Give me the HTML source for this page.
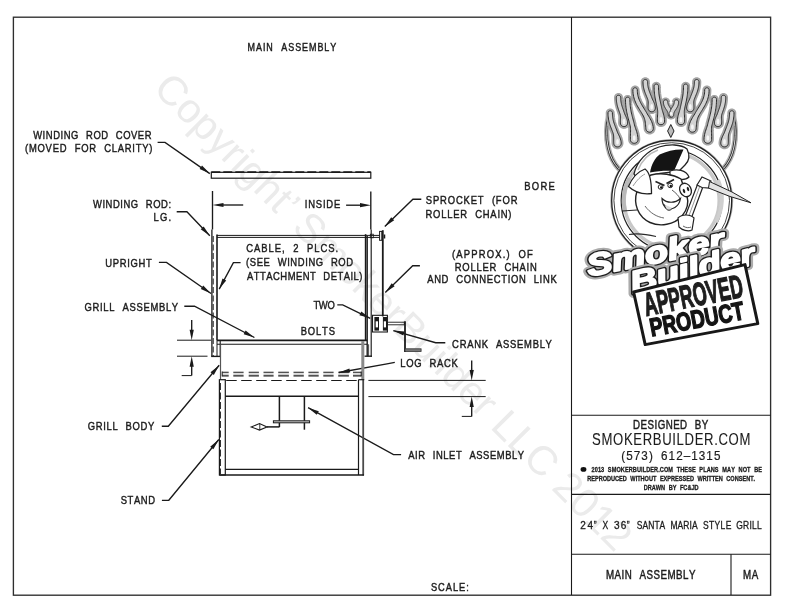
<!DOCTYPE html>
<html><head><meta charset="utf-8"><style>
html,body{margin:0;padding:0;background:#fff;}
svg{display:block;font-family:"Liberation Sans",sans-serif;font-kerning:none;filter:grayscale(1);}
</style></head><body>
<svg width="785" height="616" viewBox="0 0 785 616">
<rect width="785" height="616" fill="#fff"/>
<text transform="translate(152,90) rotate(45.0)" font-size="41" fill="#ebebeb" stroke="#fff" stroke-width="0" textLength="655" lengthAdjust="spacing">Copyright’ SmokerBuilder LLC 2012</text>
<rect x="13.4" y="17.2" width="757.2" height="578.0" fill="none" stroke="#2e2e2e" stroke-width="1.35" />
<line x1="571.5" y1="17.0" x2="571.5" y2="595.0" stroke="#1a1a1a" stroke-width="1.1" />
<line x1="571.5" y1="415.2" x2="770.5" y2="415.2" stroke="#1a1a1a" stroke-width="1.1" />
<line x1="571.5" y1="494.4" x2="770.5" y2="494.4" stroke="#1a1a1a" stroke-width="1.1" />
<line x1="571.5" y1="554.3" x2="770.5" y2="554.3" stroke="#1a1a1a" stroke-width="1.1" />
<line x1="731.0" y1="554.3" x2="731.0" y2="595.0" stroke="#1a1a1a" stroke-width="1.1" />
<text transform="translate(247.56,51.40) scale(0.8,1)" font-size="11.2" font-weight="normal" fill="#1c1c1c" letter-spacing="1.212" word-spacing="5.00"  stroke="#1c1c1c" stroke-width="0.45">MAIN ASSEMBLY</text>
<text transform="translate(430.98,590.90) scale(0.8,1)" font-size="11.6" font-weight="normal" fill="#1c1c1c" letter-spacing="1.190" word-spacing="5.00"  stroke="#1c1c1c" stroke-width="0.45">SCALE:</text>
<text transform="translate(33.16,139.10) scale(0.8,1)" font-size="11.8" font-weight="normal" fill="#1c1c1c" letter-spacing="0.683" word-spacing="5.00"  stroke="#1c1c1c" stroke-width="0.45">WINDING ROD COVER</text>
<text transform="translate(25.01,152.40) scale(0.8,1)" font-size="11.8" font-weight="normal" fill="#1c1c1c" letter-spacing="0.946" word-spacing="5.00"  stroke="#1c1c1c" stroke-width="0.45">(MOVED FOR CLARITY)</text>
<polyline points="157.6,142.4 165.0,142.4 209.8,173.6" fill="none" stroke="#1a1a1a" stroke-width="1.35" />
<polygon points="209.8,173.6 199.6,169.0 202.0,165.6" fill="#1a1a1a"/>
<text transform="translate(92.96,208.40) scale(0.8,1)" font-size="11.8" font-weight="normal" fill="#1c1c1c" letter-spacing="0.685" word-spacing="5.00"  stroke="#1c1c1c" stroke-width="0.45">WINDING ROD:</text>
<text transform="translate(153.53,221.40) scale(0.8,1)" font-size="11.8" font-weight="normal" fill="#1c1c1c" letter-spacing="1.513" word-spacing="5.00"  stroke="#1c1c1c" stroke-width="0.45">LG.</text>
<polyline points="176.7,211.7 186.9,211.7 209.8,235.8" fill="none" stroke="#1a1a1a" stroke-width="1.35" />
<polygon points="209.8,235.8 200.7,229.3 203.7,226.4" fill="#1a1a1a"/>
<text transform="translate(105.17,266.80) scale(0.8,1)" font-size="11.8" font-weight="normal" fill="#1c1c1c" letter-spacing="0.889" word-spacing="5.00"  stroke="#1c1c1c" stroke-width="0.45">UPRIGHT</text>
<polyline points="158.9,262.4 166.5,262.4 211.0,293.5" fill="none" stroke="#1a1a1a" stroke-width="1.35" />
<polygon points="211.0,293.5 200.8,288.9 203.2,285.5" fill="#1a1a1a"/>
<text transform="translate(84.53,310.80) scale(0.8,1)" font-size="11.8" font-weight="normal" fill="#1c1c1c" letter-spacing="0.854" word-spacing="5.00"  stroke="#1c1c1c" stroke-width="0.45">GRILL ASSEMBLY</text>
<polyline points="184.3,306.2 194.5,306.2 254.4,337.5" fill="none" stroke="#1a1a1a" stroke-width="1.35" />
<polygon points="254.4,337.5 243.7,334.3 245.6,330.5" fill="#1a1a1a"/>
<text transform="translate(87.73,430.10) scale(0.8,1)" font-size="11.8" font-weight="normal" fill="#1c1c1c" letter-spacing="0.837" word-spacing="5.00"  stroke="#1c1c1c" stroke-width="0.45">GRILL BODY</text>
<polyline points="161.8,426.2 168.3,426.2 219.2,365.2" fill="none" stroke="#1a1a1a" stroke-width="1.35" />
<polygon points="219.2,365.2 213.8,375.0 210.5,372.3" fill="#1a1a1a"/>
<text transform="translate(120.67,504.20) scale(0.8,1)" font-size="11.8" font-weight="normal" fill="#1c1c1c" letter-spacing="0.746" word-spacing="5.00"  stroke="#1c1c1c" stroke-width="0.45">STAND</text>
<polyline points="161.9,500.3 168.8,500.3 218.8,439.5" fill="none" stroke="#1a1a1a" stroke-width="1.35" />
<polygon points="218.8,439.5 213.4,449.3 210.2,446.7" fill="#1a1a1a"/>
<text transform="translate(524.23,190.30) scale(0.8,1)" font-size="11.8" font-weight="normal" fill="#1c1c1c" letter-spacing="1.595" word-spacing="5.00"  stroke="#1c1c1c" stroke-width="0.45">BORE</text>
<text transform="translate(425.87,204.00) scale(0.8,1)" font-size="11.8" font-weight="normal" fill="#1c1c1c" letter-spacing="1.046" word-spacing="5.00"  stroke="#1c1c1c" stroke-width="0.45">SPROCKET (FOR</text>
<text transform="translate(425.53,217.50) scale(0.8,1)" font-size="11.8" font-weight="normal" fill="#1c1c1c" letter-spacing="0.953" word-spacing="5.00"  stroke="#1c1c1c" stroke-width="0.45">ROLLER CHAIN)</text>
<polyline points="421.3,199.2 412.9,199.2 384.8,226.4" fill="none" stroke="#1a1a1a" stroke-width="1.35" />
<polygon points="384.8,226.4 391.2,217.2 394.2,220.3" fill="#1a1a1a"/>
<text transform="translate(452.01,258.00) scale(0.8,1)" font-size="11.8" font-weight="normal" fill="#1c1c1c" letter-spacing="1.463" word-spacing="5.00"  stroke="#1c1c1c" stroke-width="0.45">(APPROX.) OF</text>
<text transform="translate(454.73,271.30) scale(0.8,1)" font-size="11.8" font-weight="normal" fill="#1c1c1c" letter-spacing="0.952" word-spacing="5.00"  stroke="#1c1c1c" stroke-width="0.45">ROLLER CHAIN</text>
<text transform="translate(427.18,283.40) scale(0.8,1)" font-size="11.8" font-weight="normal" fill="#1c1c1c" letter-spacing="0.834" word-spacing="5.00"  stroke="#1c1c1c" stroke-width="0.45">AND CONNECTION LINK</text>
<polyline points="419.9,265.7 412.7,265.7 385.3,292.4" fill="none" stroke="#1a1a1a" stroke-width="1.35" />
<polygon points="385.3,292.4 391.7,283.2 394.6,286.2" fill="#1a1a1a"/>
<text transform="translate(313.39,308.60) scale(0.8,1)" font-size="11.8" font-weight="normal" fill="#1c1c1c" letter-spacing="-0.410" word-spacing="5.00"  stroke="#1c1c1c" stroke-width="0.45">TWO</text>
<polyline points="337.3,304.8 342.7,304.8 370.2,318.3" fill="none" stroke="#1a1a1a" stroke-width="1.35" />
<polygon points="370.2,318.3 359.4,315.3 361.3,311.6" fill="#1a1a1a"/>
<text transform="translate(300.63,335.10) scale(0.8,1)" font-size="11.8" font-weight="normal" fill="#1c1c1c" letter-spacing="1.080" word-spacing="5.00"  stroke="#1c1c1c" stroke-width="0.45">BOLTS</text>
<text transform="translate(452.12,347.50) scale(0.8,1)" font-size="11.8" font-weight="normal" fill="#1c1c1c" letter-spacing="0.897" word-spacing="5.00"  stroke="#1c1c1c" stroke-width="0.45">CRANK ASSEMBLY</text>
<polyline points="445.3,342.7 435.7,342.7 393.3,330.6" fill="none" stroke="#1a1a1a" stroke-width="1.35" />
<polygon points="393.3,330.6 404.5,331.6 403.3,335.6" fill="#1a1a1a"/>
<text transform="translate(400.33,367.30) scale(0.8,1)" font-size="11.8" font-weight="normal" fill="#1c1c1c" letter-spacing="0.838" word-spacing="5.00"  stroke="#1c1c1c" stroke-width="0.45">LOG RACK</text>
<polyline points="394.8,362.4 387.0,363.8 339.0,372.5" fill="none" stroke="#1a1a1a" stroke-width="1.35" />
<polygon points="339.0,372.5 349.4,368.5 350.2,372.6" fill="#1a1a1a"/>
<text transform="translate(408.28,459.00) scale(0.8,1)" font-size="11.8" font-weight="normal" fill="#1c1c1c" letter-spacing="0.684" word-spacing="5.00"  stroke="#1c1c1c" stroke-width="0.45">AIR INLET ASSEMBLY</text>
<polyline points="401.1,454.6 393.5,454.6 308.1,407.7" fill="none" stroke="#1a1a1a" stroke-width="1.35" />
<polygon points="308.1,407.7 318.8,411.2 316.7,414.8" fill="#1a1a1a"/>
<text transform="translate(246.22,252.40) scale(0.8,1)" font-size="11.8" font-weight="normal" fill="#1c1c1c" letter-spacing="1.220" word-spacing="5.00"  stroke="#1c1c1c" stroke-width="0.45">CABLE, 2 PLCS.</text>
<text transform="translate(246.11,265.70) scale(0.8,1)" font-size="11.8" font-weight="normal" fill="#1c1c1c" letter-spacing="0.736" word-spacing="5.00"  stroke="#1c1c1c" stroke-width="0.45">(SEE WINDING ROD</text>
<text transform="translate(247.08,280.00) scale(0.8,1)" font-size="11.8" font-weight="normal" fill="#1c1c1c" letter-spacing="0.594" word-spacing="5.00"  stroke="#1c1c1c" stroke-width="0.45">ATTACHMENT DETAIL)</text>
<polyline points="240.6,262.6 233.4,262.6 219.2,289.1" fill="none" stroke="#1a1a1a" stroke-width="1.35" />
<polygon points="219.2,289.1 222.5,278.4 226.2,280.4" fill="#1a1a1a"/>
<text transform="translate(304.73,208.40) scale(0.8,1)" font-size="11.8" font-weight="normal" fill="#1c1c1c" letter-spacing="1.026" word-spacing="5.00"  stroke="#1c1c1c" stroke-width="0.45">INSIDE</text>
<line x1="212.5" y1="191.0" x2="212.5" y2="229.5" stroke="#1a1a1a" stroke-width="1.35" />
<line x1="370.8" y1="191.4" x2="370.8" y2="229.5" stroke="#1a1a1a" stroke-width="1.35" />
<line x1="243.2" y1="205.0" x2="222.0" y2="205.0" stroke="#1a1a1a" stroke-width="1.35" />
<polygon points="212.5,205.0 223.5,202.9 223.5,207.1" fill="#1a1a1a"/>
<line x1="346.1" y1="205.2" x2="360.0" y2="205.2" stroke="#1a1a1a" stroke-width="1.35" />
<polygon points="371.0,205.2 360.0,207.3 360.0,203.1" fill="#1a1a1a"/>
<rect x="211.3" y="172.3" width="159.5" height="5.9" fill="none" stroke="#1a1a1a" stroke-width="1.2" />
<line x1="211.3" y1="172.2" x2="370.8" y2="172.2" stroke="#1a1a1a" stroke-width="1.8" stroke-dasharray="9 3"/>
<line x1="211.9" y1="229.5" x2="211.9" y2="356.4" stroke="#1a1a1a" stroke-width="1.3" />
<line x1="213.2" y1="236.0" x2="213.2" y2="356.0" stroke="#1a1a1a" stroke-width="1.0" stroke-dasharray="6 2.5"/>
<line x1="217.0" y1="234.6" x2="217.0" y2="340.2" stroke="#1a1a1a" stroke-width="1.6" />
<line x1="217.0" y1="340.2" x2="217.0" y2="356.4" stroke="#1a1a1a" stroke-width="1.0" />
<line x1="220.2" y1="340.2" x2="220.2" y2="356.4" stroke="#1a1a1a" stroke-width="1.1" />
<line x1="211.2" y1="356.4" x2="220.8" y2="356.4" stroke="#1a1a1a" stroke-width="1.4" />
<line x1="365.6" y1="234.2" x2="365.6" y2="340.2" stroke="#1a1a1a" stroke-width="1.6" />
<line x1="367.2" y1="236.0" x2="367.2" y2="356.4" stroke="#1a1a1a" stroke-width="1.4" />
<line x1="368.6" y1="344.3" x2="368.6" y2="356.2" stroke="#1a1a1a" stroke-width="0.8" />
<line x1="371.2" y1="229.5" x2="371.2" y2="356.4" stroke="#1a1a1a" stroke-width="1.15" />
<line x1="364.5" y1="356.2" x2="372.0" y2="356.2" stroke="#1a1a1a" stroke-width="1.4" />
<line x1="217.0" y1="235.4" x2="379.5" y2="235.4" stroke="#1a1a1a" stroke-width="1.0" />
<line x1="217.0" y1="237.4" x2="379.5" y2="237.4" stroke="#1a1a1a" stroke-width="1.0" />
<rect x="370.3" y="234.2" width="3.0" height="3.6" fill="none" stroke="#1a1a1a" stroke-width="0.8" />
<rect x="379.6" y="231.4" width="2.2" height="8.9" fill="none" stroke="#1a1a1a" stroke-width="1.0" />
<line x1="382.8" y1="230.2" x2="382.8" y2="316.4" stroke="#1a1a1a" stroke-width="1.8" />
<line x1="384.5" y1="234.5" x2="384.5" y2="238.5" stroke="#1a1a1a" stroke-width="1.5" />
<rect x="372.5" y="315.3" width="14.9" height="16.7" fill="none" stroke="#1a1a1a" stroke-width="1.1" />
<rect x="374.4" y="317.0" width="4.6" height="13.6" fill="#1a1a1a" stroke="none" stroke-width="0" />
<rect x="382.9" y="317.0" width="4.1" height="13.6" fill="#1a1a1a" stroke="none" stroke-width="0" />
<rect x="375.7" y="321.3" width="2.3" height="6.1" fill="#fff" stroke="none" stroke-width="0" />
<rect x="383.8" y="321.3" width="2.2" height="6.1" fill="#fff" stroke="none" stroke-width="0" />
<rect x="387.4" y="322.2" width="16.9" height="2.6" fill="none" stroke="#1a1a1a" stroke-width="0.9" />
<line x1="405.0" y1="321.3" x2="405.0" y2="352.0" stroke="#1a1a1a" stroke-width="1.8" />
<rect x="405.0" y="348.8" width="16.1" height="2.6" fill="#777" stroke="#333" stroke-width="0.8" />
<line x1="217.0" y1="340.3" x2="367.1" y2="340.3" stroke="#1a1a1a" stroke-width="1.7" />
<line x1="217.0" y1="344.3" x2="367.1" y2="344.3" stroke="#1a1a1a" stroke-width="1.1" />
<line x1="220.5" y1="344.3" x2="220.5" y2="379.6" stroke="#555" stroke-width="1.2" />
<line x1="362.8" y1="341.0" x2="362.8" y2="380.0" stroke="#8a8a8a" stroke-width="3.0" />
<line x1="363.2" y1="379.7" x2="363.2" y2="475.4" stroke="#4a4a4a" stroke-width="1.8" />
<line x1="222.2" y1="372.2" x2="361.2" y2="372.2" stroke="#1a1a1a" stroke-width="1.15" stroke-dasharray="6.5 4.6 10.3 5.1 10.2 4.6 10.1 4.6 10.7 4.6 10.3 4.6 10.3 4.6 10.3 4.6 10.7 4.1 10.7 4.1 7.6"/>
<line x1="222.2" y1="374.1" x2="361.2" y2="374.1" stroke="#8a8a8a" stroke-width="0.7" stroke-dasharray="6.5 4.6 10.3 5.1 10.2 4.6 10.1 4.6 10.7 4.6 10.3 4.6 10.3 4.6 10.3 4.6 10.7 4.1 10.7 4.1 7.6"/>
<line x1="222.2" y1="375.9" x2="361.2" y2="375.9" stroke="#1a1a1a" stroke-width="1.15" stroke-dasharray="6.5 4.6 10.3 5.1 10.2 4.6 10.1 4.6 10.7 4.6 10.3 4.6 10.3 4.6 10.3 4.6 10.7 4.1 10.7 4.1 7.6"/>
<line x1="222.2" y1="371.5" x2="222.2" y2="376.4" stroke="#1a1a1a" stroke-width="1.0" />
<line x1="361.2" y1="371.5" x2="361.2" y2="376.4" stroke="#1a1a1a" stroke-width="1.0" />
<line x1="226.2" y1="380.5" x2="358.5" y2="380.5" stroke="#1a1a1a" stroke-width="1.1" stroke-dasharray="10.5 4.5"/>
<rect x="219.4" y="379.7" width="5.9" height="95.3" fill="none" stroke="#1a1a1a" stroke-width="1.2" />
<line x1="220.4" y1="383.0" x2="220.4" y2="474.0" stroke="#1a1a1a" stroke-width="1.0" stroke-dasharray="7 2.5"/>
<line x1="358.5" y1="379.7" x2="358.5" y2="475.0" stroke="#1a1a1a" stroke-width="1.2" />
<line x1="358.5" y1="379.7" x2="364.2" y2="379.7" stroke="#1a1a1a" stroke-width="1.2" />
<line x1="225.3" y1="396.3" x2="358.5" y2="396.3" stroke="#1a1a1a" stroke-width="1.6" />
<line x1="225.3" y1="469.4" x2="358.5" y2="469.4" stroke="#1a1a1a" stroke-width="1.3" />
<line x1="219.4" y1="475.0" x2="364.0" y2="475.0" stroke="#1a1a1a" stroke-width="1.3" />
<line x1="279.4" y1="396.3" x2="279.4" y2="427.1" stroke="#1a1a1a" stroke-width="1.5" />
<line x1="304.4" y1="396.3" x2="304.4" y2="429.7" stroke="#1a1a1a" stroke-width="1.5" />
<rect x="273.4" y="420.8" width="36.2" height="2.0" fill="#ccc" stroke="#1a1a1a" stroke-width="1.0" />
<polyline points="279.4,426.9 267.0,426.9" fill="none" stroke="#1a1a1a" stroke-width="1.5" />
<polygon points="251.2,426.9 259.5,423.6 267,426.9 259.5,430.1" fill="#fff" stroke="#1a1a1a" stroke-width="1.1"/>
<line x1="259.8" y1="423.8" x2="259.8" y2="430.0" stroke="#1a1a1a" stroke-width="0.9" />
<line x1="177.0" y1="340.2" x2="211.0" y2="340.2" stroke="#1a1a1a" stroke-width="1.0" />
<line x1="177.0" y1="356.2" x2="207.5" y2="356.2" stroke="#1a1a1a" stroke-width="1.0" />
<line x1="191.7" y1="320.0" x2="191.7" y2="331.0" stroke="#1a1a1a" stroke-width="1.35" />
<polygon points="191.7,340.2 189.6,329.7 193.8,329.7" fill="#1a1a1a"/>
<line x1="191.7" y1="375.6" x2="191.7" y2="366.0" stroke="#1a1a1a" stroke-width="1.35" />
<polygon points="191.7,356.2 193.8,366.7 189.6,366.7" fill="#1a1a1a"/>
<line x1="181.7" y1="375.6" x2="191.7" y2="375.6" stroke="#1a1a1a" stroke-width="1.0" />
<line x1="368.4" y1="380.4" x2="485.7" y2="380.4" stroke="#1a1a1a" stroke-width="1.0" />
<line x1="368.4" y1="396.6" x2="485.7" y2="396.6" stroke="#1a1a1a" stroke-width="1.0" />
<line x1="471.7" y1="360.4" x2="471.7" y2="370.0" stroke="#1a1a1a" stroke-width="1.35" />
<polygon points="471.7,380.4 469.6,369.9 473.8,369.9" fill="#1a1a1a"/>
<line x1="471.7" y1="416.4" x2="471.7" y2="406.0" stroke="#1a1a1a" stroke-width="1.35" />
<polygon points="471.7,396.6 473.8,407.1 469.6,407.1" fill="#1a1a1a"/>
<line x1="461.8" y1="416.4" x2="471.7" y2="416.4" stroke="#1a1a1a" stroke-width="1.0" />
<text transform="translate(633.10,428.70) scale(0.8,1)" font-size="12.2" font-weight="normal" fill="#1c1c1c" letter-spacing="0.563" word-spacing="5.00"  stroke="#1c1c1c" stroke-width="0.45">DESIGNED BY</text>
<text transform="translate(592.10,444.50) scale(0.8,1)" font-size="16.4" font-weight="normal" fill="#1c1c1c" letter-spacing="0.804" word-spacing="0.00"  stroke="#1c1c1c" stroke-width="0.1">SMOKERBUILDER.COM</text>
<text transform="translate(621.28,459.80) scale(0.95,1)" font-size="12.3" font-weight="normal" fill="#1c1c1c" letter-spacing="1.122" word-spacing="3.00"  stroke="#1c1c1c" stroke-width="0.2">(573) 612–1315</text>
<text transform="translate(591.51,472.20) scale(0.8,1)" font-size="7.0" font-weight="bold" fill="#1c1c1c" letter-spacing="0.092" word-spacing="2.50"  stroke="#1c1c1c" stroke-width="0.3">2013 SMOKERBUILDER.COM THESE PLANS MAY NOT BE</text>
<ellipse cx="583.5" cy="469.4" rx="2.9" ry="2.4" fill="#111"/>
<text transform="translate(587.23,481.10) scale(0.8,1)" font-size="7.0" font-weight="bold" fill="#1c1c1c" letter-spacing="-0.020" word-spacing="2.50"  stroke="#1c1c1c" stroke-width="0.3">REPRODUCED WITHOUT EXPRESSED WRITTEN CONSENT.</text>
<text transform="translate(643.73,489.80) scale(0.8,1)" font-size="7.0" font-weight="bold" fill="#1c1c1c" letter-spacing="-0.011" word-spacing="2.50"  stroke="#1c1c1c" stroke-width="0.3">DRAWN BY FC&amp;JD</text>
<text transform="translate(580.20,529.30) scale(1.0,1)" font-size="10.0" font-weight="normal" fill="#1c1c1c" letter-spacing="1.673" word-spacing="5.00"  stroke="#1c1c1c" stroke-width="0.3">24</text>
<text transform="translate(593.69,529.30) scale(0.85,1)" font-size="10.0" font-weight="normal" fill="#1c1c1c" letter-spacing="1.873" word-spacing="5.00"  stroke="#1c1c1c" stroke-width="0.3">”</text>
<text transform="translate(602.61,529.30) scale(0.85,1)" font-size="10.0" font-weight="normal" fill="#1c1c1c" letter-spacing="1.294" word-spacing="5.00"  stroke="#1c1c1c" stroke-width="0.3">X</text>
<text transform="translate(613.92,529.30) scale(1.0,1)" font-size="10.0" font-weight="normal" fill="#1c1c1c" letter-spacing="1.197" word-spacing="5.00"  stroke="#1c1c1c" stroke-width="0.3">36</text>
<text transform="translate(626.69,529.30) scale(0.85,1)" font-size="10.0" font-weight="normal" fill="#1c1c1c" letter-spacing="1.991" word-spacing="5.00"  stroke="#1c1c1c" stroke-width="0.3">”</text>
<text transform="translate(636.81,529.30) scale(0.85,1)" font-size="10.0" font-weight="normal" fill="#1c1c1c" letter-spacing="0.048" word-spacing="5.00"  stroke="#1c1c1c" stroke-width="0.3">SANTA</text>
<text transform="translate(670.40,529.30) scale(0.85,1)" font-size="10.0" font-weight="normal" fill="#1c1c1c" letter-spacing="0.087" word-spacing="5.00"  stroke="#1c1c1c" stroke-width="0.3">MARIA</text>
<text transform="translate(703.11,529.30) scale(0.85,1)" font-size="10.0" font-weight="normal" fill="#1c1c1c" letter-spacing="0.389" word-spacing="5.00"  stroke="#1c1c1c" stroke-width="0.3">STYLE</text>
<text transform="translate(736.17,529.30) scale(0.85,1)" font-size="10.0" font-weight="normal" fill="#1c1c1c" letter-spacing="0.336" word-spacing="5.00"  stroke="#1c1c1c" stroke-width="0.3">GRILL</text>
<text transform="translate(605.90,579.00) scale(0.8,1)" font-size="12.2" font-weight="normal" fill="#1c1c1c" letter-spacing="0.613" word-spacing="5.00"  stroke="#1c1c1c" stroke-width="0.45">MAIN ASSEMBLY</text>
<text transform="translate(742.90,579.00) scale(0.8,1)" font-size="12.2" font-weight="normal" fill="#1c1c1c" letter-spacing="0.975" word-spacing="5.00"  stroke="#1c1c1c" stroke-width="0.45">MA</text>
<path d="M609,114 C606.5,124 606,138 608.3,148 C610,156 613.5,163 618.5,168.5" fill="none" stroke="#b2b2b2" stroke-width="5.4" stroke-linecap="round"/>
<path d="M609,114 C606.5,124 606,138 608.3,148 C610,156 613.5,163 618.5,168.5" fill="none" stroke="#2e2e2e" stroke-width="2.6" stroke-linecap="round"/>
<path d="M609,114 C606.5,124 606,138 608.3,148 C610,156 613.5,163 618.5,168.5" fill="none" stroke="#d8d8d8" stroke-width="1.0" stroke-linecap="round"/>
<path d="M733,114 C735.5,124 736,138 733.7,148 C732,156 728.5,163 723.5,168.5" fill="none" stroke="#b2b2b2" stroke-width="5.4" stroke-linecap="round"/>
<path d="M733,114 C735.5,124 736,138 733.7,148 C732,156 728.5,163 723.5,168.5" fill="none" stroke="#2e2e2e" stroke-width="2.6" stroke-linecap="round"/>
<path d="M733,114 C735.5,124 736,138 733.7,148 C732,156 728.5,163 723.5,168.5" fill="none" stroke="#d8d8d8" stroke-width="1.0" stroke-linecap="round"/>
<path d="M668.2,110 L671.0,116.5 L673.8,110" fill="none" stroke="#a6a6a6" stroke-width="5" stroke-linejoin="round"/>
<path d="M668.2,110 L671.0,116.5 L673.8,110" fill="none" stroke="#2a2a2a" stroke-width="2.2" stroke-linejoin="round"/>
<path d="M613.81,143.46 L614.00,144.41 L614.43,145.27 L615.08,145.99 L615.88,146.53 L616.80,146.83 L617.76,146.89 L618.71,146.70 L619.57,146.27 L620.29,145.62 L620.83,144.82 L621.13,143.90 L621.19,142.94 L621.04,141.58 L620.79,140.29 L620.45,139.05 L620.04,137.88 L619.58,136.77 L619.09,135.71 L618.60,134.70 L618.12,133.72 L617.68,132.76 L617.29,131.82 L616.94,130.88 L616.60,129.96 L616.25,129.06 L615.90,128.17 L615.56,127.30 L615.22,126.43 L614.90,125.57 L614.58,124.71 L614.28,123.85 L613.99,122.98 L613.72,122.10 L613.47,121.20 L613.23,120.29 L613.03,119.35 L612.85,118.39 L612.69,117.39 L612.57,116.36 L612.48,115.29 L612.42,114.17 L612.40,113.00 L612.33,112.43 L612.11,111.90 L611.76,111.44 L611.30,111.09 L610.77,110.87 L610.20,110.80 L609.63,110.87 L609.10,111.09 L608.64,111.44 L608.29,111.90 L608.07,112.43 L608.00,113.00 L608.02,114.32 L608.09,115.59 L608.19,116.81 L608.33,117.99 L608.51,119.13 L608.72,120.24 L608.95,121.30 L609.21,122.34 L609.50,123.34 L609.80,124.32 L610.11,125.27 L610.44,126.20 L610.78,127.12 L611.12,128.01 L611.46,128.90 L611.81,129.78 L612.15,130.65 L612.49,131.53 L612.81,132.40 L613.12,133.29 L613.37,134.20 L613.54,135.14 L613.65,136.11 L613.70,137.10 L613.72,138.11 L613.71,139.13 L613.71,140.18 L613.71,141.24 L613.74,142.33 Z M720.81,142.94 L720.87,143.90 L721.17,144.82 L721.71,145.62 L722.43,146.27 L723.29,146.70 L724.24,146.89 L725.20,146.83 L726.12,146.53 L726.92,145.99 L727.57,145.27 L728.00,144.41 L728.19,143.46 L728.26,142.33 L728.29,141.24 L728.29,140.18 L728.29,139.13 L728.28,138.11 L728.30,137.10 L728.35,136.11 L728.46,135.14 L728.63,134.20 L728.88,133.29 L729.19,132.40 L729.51,131.53 L729.85,130.65 L730.19,129.78 L730.54,128.90 L730.88,128.01 L731.22,127.12 L731.56,126.20 L731.89,125.27 L732.20,124.32 L732.50,123.34 L732.79,122.34 L733.05,121.30 L733.28,120.24 L733.49,119.13 L733.67,117.99 L733.81,116.81 L733.91,115.59 L733.98,114.32 L734.00,113.00 L733.93,112.43 L733.71,111.90 L733.36,111.44 L732.90,111.09 L732.37,110.87 L731.80,110.80 L731.23,110.87 L730.70,111.09 L730.24,111.44 L729.89,111.90 L729.67,112.43 L729.60,113.00 L729.58,114.17 L729.52,115.29 L729.43,116.36 L729.31,117.39 L729.15,118.39 L728.97,119.35 L728.77,120.29 L728.53,121.20 L728.28,122.10 L728.01,122.98 L727.72,123.85 L727.42,124.71 L727.10,125.57 L726.78,126.43 L726.44,127.30 L726.10,128.17 L725.75,129.06 L725.40,129.96 L725.06,130.88 L724.71,131.82 L724.32,132.76 L723.88,133.72 L723.40,134.70 L722.91,135.71 L722.42,136.77 L721.96,137.88 L721.55,139.05 L721.21,140.29 L720.96,141.58 Z M620.40,123.15 L620.56,124.08 L620.96,124.93 L621.56,125.65 L622.33,126.19 L623.22,126.51 L624.15,126.60 L625.08,126.44 L625.93,126.04 L626.65,125.44 L627.19,124.67 L627.51,123.78 L627.60,122.85 L627.50,121.69 L627.31,120.59 L627.04,119.53 L626.71,118.53 L626.33,117.58 L625.93,116.67 L625.53,115.80 L625.14,114.97 L624.79,114.15 L624.48,113.35 L624.21,112.55 L623.95,111.77 L623.68,111.00 L623.42,110.25 L623.15,109.51 L622.89,108.78 L622.64,108.05 L622.39,107.33 L622.16,106.60 L621.94,105.87 L621.73,105.13 L621.53,104.38 L621.35,103.61 L621.19,102.83 L621.05,102.02 L620.93,101.18 L620.83,100.32 L620.76,99.42 L620.72,98.48 L620.70,97.50 L620.63,96.93 L620.41,96.40 L620.06,95.94 L619.60,95.59 L619.07,95.37 L618.50,95.30 L617.93,95.37 L617.40,95.59 L616.94,95.94 L616.59,96.40 L616.37,96.93 L616.30,97.50 L616.32,98.62 L616.37,99.70 L616.45,100.74 L616.56,101.74 L616.70,102.71 L616.87,103.65 L617.05,104.55 L617.26,105.43 L617.48,106.29 L617.72,107.11 L617.96,107.92 L618.22,108.71 L618.48,109.48 L618.74,110.24 L619.01,110.99 L619.27,111.73 L619.53,112.46 L619.79,113.20 L620.04,113.93 L620.27,114.67 L620.44,115.44 L620.54,116.22 L620.58,117.03 L620.58,117.86 L620.54,118.70 L620.48,119.55 L620.43,120.42 L620.39,121.30 L620.38,122.21 Z M714.40,122.85 L714.49,123.78 L714.81,124.67 L715.35,125.44 L716.07,126.04 L716.92,126.44 L717.85,126.60 L718.78,126.51 L719.67,126.19 L720.44,125.65 L721.04,124.93 L721.44,124.08 L721.60,123.15 L721.62,122.21 L721.61,121.30 L721.57,120.42 L721.52,119.55 L721.46,118.70 L721.42,117.86 L721.42,117.03 L721.46,116.22 L721.56,115.44 L721.73,114.67 L721.96,113.93 L722.21,113.20 L722.47,112.46 L722.73,111.73 L722.99,110.99 L723.26,110.24 L723.52,109.48 L723.78,108.71 L724.04,107.92 L724.28,107.11 L724.52,106.29 L724.74,105.43 L724.95,104.55 L725.13,103.65 L725.30,102.71 L725.44,101.74 L725.55,100.74 L725.63,99.70 L725.68,98.62 L725.70,97.50 L725.63,96.93 L725.41,96.40 L725.06,95.94 L724.60,95.59 L724.07,95.37 L723.50,95.30 L722.93,95.37 L722.40,95.59 L721.94,95.94 L721.59,96.40 L721.37,96.93 L721.30,97.50 L721.28,98.48 L721.24,99.42 L721.17,100.32 L721.07,101.18 L720.95,102.02 L720.81,102.83 L720.65,103.61 L720.47,104.38 L720.27,105.13 L720.06,105.87 L719.84,106.60 L719.61,107.33 L719.36,108.05 L719.11,108.78 L718.85,109.51 L718.58,110.25 L718.32,111.00 L718.05,111.77 L717.79,112.55 L717.52,113.35 L717.21,114.15 L716.86,114.97 L716.47,115.80 L716.07,116.67 L715.67,117.58 L715.29,118.53 L714.96,119.53 L714.69,120.59 L714.50,121.69 Z M630.40,139.60 L630.56,140.58 L630.96,141.49 L631.59,142.26 L632.39,142.84 L633.31,143.20 L634.30,143.30 L635.28,143.14 L636.19,142.74 L636.96,142.11 L637.54,141.31 L637.90,140.39 L638.00,139.40 L637.90,137.66 L637.69,136.00 L637.39,134.40 L637.02,132.88 L636.59,131.42 L636.14,130.02 L635.67,128.68 L635.23,127.37 L634.82,126.10 L634.46,124.85 L634.16,123.62 L633.85,122.41 L633.53,121.22 L633.22,120.04 L632.91,118.88 L632.59,117.72 L632.29,116.56 L631.99,115.40 L631.71,114.24 L631.43,113.06 L631.17,111.86 L630.93,110.64 L630.71,109.39 L630.51,108.11 L630.33,106.78 L630.18,105.42 L630.06,104.00 L629.97,102.53 L629.92,101.00 L629.90,99.40 L629.83,98.83 L629.61,98.30 L629.26,97.84 L628.80,97.49 L628.27,97.27 L627.70,97.20 L627.13,97.27 L626.60,97.49 L626.14,97.84 L625.79,98.30 L625.57,98.83 L625.50,99.40 L625.52,101.10 L625.58,102.74 L625.68,104.32 L625.81,105.84 L625.97,107.31 L626.16,108.74 L626.37,110.11 L626.61,111.45 L626.86,112.75 L627.14,114.02 L627.43,115.26 L627.72,116.48 L628.03,117.67 L628.34,118.85 L628.66,120.02 L628.97,121.19 L629.28,122.35 L629.59,123.51 L629.89,124.68 L630.17,125.87 L630.37,127.09 L630.50,128.34 L630.56,129.62 L630.57,130.94 L630.53,132.28 L630.48,133.66 L630.43,135.08 L630.39,136.53 L630.38,138.04 Z M704.00,139.40 L704.10,140.39 L704.46,141.31 L705.04,142.11 L705.81,142.74 L706.72,143.14 L707.70,143.30 L708.69,143.20 L709.61,142.84 L710.41,142.26 L711.04,141.49 L711.44,140.58 L711.60,139.60 L711.62,138.04 L711.61,136.53 L711.57,135.08 L711.52,133.66 L711.47,132.28 L711.43,130.94 L711.44,129.62 L711.50,128.34 L711.63,127.09 L711.83,125.87 L712.11,124.68 L712.41,123.51 L712.72,122.35 L713.03,121.19 L713.34,120.02 L713.66,118.85 L713.97,117.67 L714.28,116.48 L714.57,115.26 L714.86,114.02 L715.14,112.75 L715.39,111.45 L715.63,110.11 L715.84,108.74 L716.03,107.31 L716.19,105.84 L716.32,104.32 L716.42,102.74 L716.48,101.10 L716.50,99.40 L716.43,98.83 L716.21,98.30 L715.86,97.84 L715.40,97.49 L714.87,97.27 L714.30,97.20 L713.73,97.27 L713.20,97.49 L712.74,97.84 L712.39,98.30 L712.17,98.83 L712.10,99.40 L712.08,101.00 L712.03,102.53 L711.94,104.00 L711.82,105.42 L711.67,106.78 L711.49,108.11 L711.29,109.39 L711.07,110.64 L710.83,111.86 L710.57,113.06 L710.29,114.24 L710.01,115.40 L709.71,116.56 L709.41,117.72 L709.09,118.88 L708.78,120.04 L708.47,121.22 L708.15,122.41 L707.84,123.62 L707.54,124.85 L707.18,126.10 L706.77,127.37 L706.33,128.68 L705.86,130.02 L705.41,131.42 L704.98,132.88 L704.61,134.40 L704.31,136.00 L704.10,137.66 Z M645.91,128.77 L646.11,129.72 L646.54,130.58 L647.18,131.30 L647.99,131.83 L648.91,132.13 L649.87,132.19 L650.82,131.99 L651.68,131.56 L652.40,130.92 L652.93,130.11 L653.23,129.19 L653.29,128.23 L653.08,126.45 L652.72,124.76 L652.23,123.15 L651.63,121.63 L650.96,120.19 L650.23,118.83 L649.47,117.54 L648.71,116.29 L647.96,115.07 L647.24,113.86 L646.56,112.66 L645.86,111.49 L645.16,110.34 L644.46,109.20 L643.77,108.09 L643.08,106.98 L642.41,105.88 L641.76,104.78 L641.14,103.68 L640.55,102.57 L639.99,101.45 L639.48,100.31 L639.00,99.15 L638.58,97.97 L638.21,96.75 L637.90,95.50 L637.64,94.21 L637.46,92.86 L637.34,91.46 L637.30,90.00 L637.23,89.43 L637.01,88.90 L636.66,88.44 L636.20,88.09 L635.67,87.87 L635.10,87.80 L634.53,87.87 L634.00,88.09 L633.54,88.44 L633.19,88.90 L632.97,89.43 L632.90,90.00 L632.95,91.71 L633.08,93.35 L633.30,94.93 L633.60,96.46 L633.97,97.93 L634.40,99.35 L634.90,100.73 L635.44,102.05 L636.02,103.34 L636.64,104.58 L637.28,105.80 L637.95,106.98 L638.64,108.14 L639.33,109.29 L640.03,110.41 L640.73,111.53 L641.42,112.64 L642.09,113.75 L642.75,114.86 L643.37,115.99 L643.92,117.15 L644.37,118.35 L644.74,119.59 L645.04,120.84 L645.26,122.12 L645.44,123.41 L645.57,124.71 L645.69,126.03 L645.80,127.38 Z M688.71,128.23 L688.77,129.19 L689.07,130.11 L689.60,130.92 L690.32,131.56 L691.18,131.99 L692.13,132.19 L693.09,132.13 L694.01,131.83 L694.82,131.30 L695.46,130.58 L695.89,129.72 L696.09,128.77 L696.20,127.38 L696.31,126.03 L696.43,124.71 L696.56,123.41 L696.74,122.12 L696.96,120.84 L697.26,119.59 L697.63,118.35 L698.08,117.15 L698.63,115.99 L699.25,114.86 L699.91,113.75 L700.58,112.64 L701.27,111.53 L701.97,110.41 L702.67,109.29 L703.36,108.14 L704.05,106.98 L704.72,105.80 L705.36,104.58 L705.98,103.34 L706.56,102.05 L707.10,100.73 L707.60,99.35 L708.03,97.93 L708.40,96.46 L708.70,94.93 L708.92,93.35 L709.05,91.71 L709.10,90.00 L709.03,89.43 L708.81,88.90 L708.46,88.44 L708.00,88.09 L707.47,87.87 L706.90,87.80 L706.33,87.87 L705.80,88.09 L705.34,88.44 L704.99,88.90 L704.77,89.43 L704.70,90.00 L704.66,91.46 L704.54,92.86 L704.36,94.21 L704.10,95.50 L703.79,96.75 L703.42,97.97 L703.00,99.15 L702.52,100.31 L702.01,101.45 L701.45,102.57 L700.86,103.68 L700.24,104.78 L699.59,105.88 L698.92,106.98 L698.23,108.09 L697.54,109.20 L696.84,110.34 L696.14,111.49 L695.44,112.66 L694.76,113.86 L694.04,115.07 L693.29,116.29 L692.53,117.54 L691.77,118.83 L691.04,120.19 L690.37,121.63 L689.77,123.15 L689.28,124.76 L688.92,126.45 Z M648.10,108.30 L648.25,109.23 L648.63,110.08 L649.22,110.81 L649.98,111.37 L650.86,111.70 L651.80,111.80 L652.73,111.65 L653.58,111.27 L654.31,110.68 L654.87,109.92 L655.20,109.04 L655.30,108.10 L655.21,106.89 L655.03,105.72 L654.75,104.62 L654.41,103.56 L654.01,102.57 L653.59,101.62 L653.15,100.71 L652.73,99.84 L652.34,98.99 L651.99,98.15 L651.68,97.32 L651.37,96.51 L651.07,95.71 L650.75,94.93 L650.45,94.16 L650.14,93.40 L649.84,92.64 L649.56,91.89 L649.28,91.14 L649.02,90.38 L648.78,89.62 L648.55,88.84 L648.34,88.06 L648.15,87.25 L647.99,86.42 L647.85,85.57 L647.74,84.68 L647.66,83.76 L647.61,82.80 L647.60,81.80 L647.52,81.20 L647.29,80.65 L646.93,80.17 L646.45,79.81 L645.90,79.58 L645.30,79.50 L644.70,79.58 L644.15,79.81 L643.67,80.17 L643.31,80.65 L643.08,81.20 L643.00,81.80 L643.03,82.97 L643.09,84.10 L643.20,85.19 L643.34,86.24 L643.52,87.25 L643.72,88.23 L643.95,89.17 L644.20,90.09 L644.48,90.97 L644.76,91.84 L645.07,92.67 L645.38,93.49 L645.69,94.29 L646.01,95.07 L646.33,95.84 L646.65,96.60 L646.96,97.36 L647.26,98.11 L647.55,98.87 L647.83,99.63 L648.03,100.41 L648.16,101.23 L648.23,102.06 L648.25,102.90 L648.23,103.76 L648.19,104.63 L648.14,105.52 L648.10,106.41 L648.09,107.34 Z M686.70,108.10 L686.80,109.04 L687.13,109.92 L687.69,110.68 L688.42,111.27 L689.27,111.65 L690.20,111.80 L691.14,111.70 L692.02,111.37 L692.78,110.81 L693.37,110.08 L693.75,109.23 L693.90,108.30 L693.91,107.34 L693.90,106.41 L693.86,105.52 L693.81,104.63 L693.77,103.76 L693.75,102.90 L693.77,102.06 L693.84,101.23 L693.97,100.41 L694.17,99.63 L694.45,98.87 L694.74,98.11 L695.04,97.36 L695.35,96.60 L695.67,95.84 L695.99,95.07 L696.31,94.29 L696.62,93.49 L696.93,92.67 L697.24,91.84 L697.52,90.97 L697.80,90.09 L698.05,89.17 L698.28,88.23 L698.48,87.25 L698.66,86.24 L698.80,85.19 L698.91,84.10 L698.97,82.97 L699.00,81.80 L698.92,81.20 L698.69,80.65 L698.33,80.17 L697.85,79.81 L697.30,79.58 L696.70,79.50 L696.10,79.58 L695.55,79.81 L695.07,80.17 L694.71,80.65 L694.48,81.20 L694.40,81.80 L694.39,82.80 L694.34,83.76 L694.26,84.68 L694.15,85.57 L694.01,86.42 L693.85,87.25 L693.66,88.06 L693.45,88.84 L693.22,89.62 L692.98,90.38 L692.72,91.14 L692.44,91.89 L692.16,92.64 L691.86,93.40 L691.55,94.16 L691.25,94.93 L690.93,95.71 L690.63,96.51 L690.32,97.32 L690.01,98.15 L689.66,98.99 L689.27,99.84 L688.85,100.71 L688.41,101.62 L687.99,102.57 L687.59,103.56 L687.25,104.62 L686.97,105.72 L686.79,106.89 Z M657.40,121.17 L657.54,122.10 L657.92,122.96 L658.51,123.70 L659.26,124.25 L660.14,124.60 L661.07,124.70 L662.00,124.56 L662.86,124.18 L663.60,123.59 L664.15,122.84 L664.50,121.96 L664.60,121.03 L664.52,119.52 L664.36,118.08 L664.12,116.70 L663.82,115.38 L663.48,114.12 L663.12,112.90 L662.75,111.73 L662.40,110.59 L662.08,109.49 L661.81,108.40 L661.59,107.33 L661.37,106.28 L661.14,105.25 L660.91,104.23 L660.68,103.22 L660.46,102.21 L660.24,101.21 L660.02,100.20 L659.81,99.19 L659.61,98.16 L659.43,97.12 L659.25,96.06 L659.09,94.98 L658.94,93.86 L658.82,92.72 L658.71,91.53 L658.62,90.30 L658.55,89.02 L658.51,87.69 L658.50,86.30 L658.43,85.73 L658.21,85.20 L657.86,84.74 L657.40,84.39 L656.87,84.17 L656.30,84.10 L655.73,84.17 L655.20,84.39 L654.74,84.74 L654.39,85.20 L654.17,85.73 L654.10,86.30 L654.11,87.78 L654.16,89.20 L654.23,90.57 L654.32,91.89 L654.44,93.16 L654.58,94.39 L654.73,95.59 L654.90,96.75 L655.09,97.88 L655.29,98.98 L655.50,100.05 L655.72,101.11 L655.94,102.14 L656.16,103.17 L656.39,104.18 L656.62,105.19 L656.84,106.20 L657.07,107.21 L657.28,108.23 L657.48,109.26 L657.62,110.31 L657.69,111.39 L657.71,112.50 L657.68,113.64 L657.62,114.81 L657.54,116.00 L657.47,117.23 L657.42,118.50 L657.39,119.81 Z M677.40,121.03 L677.50,121.96 L677.85,122.84 L678.40,123.59 L679.14,124.18 L680.00,124.56 L680.93,124.70 L681.86,124.60 L682.74,124.25 L683.49,123.70 L684.08,122.96 L684.46,122.10 L684.60,121.17 L684.61,119.81 L684.58,118.50 L684.53,117.23 L684.46,116.00 L684.38,114.81 L684.32,113.64 L684.29,112.50 L684.31,111.39 L684.38,110.31 L684.52,109.26 L684.72,108.23 L684.93,107.21 L685.16,106.20 L685.38,105.19 L685.61,104.18 L685.84,103.17 L686.06,102.14 L686.28,101.11 L686.50,100.05 L686.71,98.98 L686.91,97.88 L687.10,96.75 L687.27,95.59 L687.42,94.39 L687.56,93.16 L687.68,91.89 L687.77,90.57 L687.84,89.20 L687.89,87.78 L687.90,86.30 L687.83,85.73 L687.61,85.20 L687.26,84.74 L686.80,84.39 L686.27,84.17 L685.70,84.10 L685.13,84.17 L684.60,84.39 L684.14,84.74 L683.79,85.20 L683.57,85.73 L683.50,86.30 L683.49,87.69 L683.45,89.02 L683.38,90.30 L683.29,91.53 L683.18,92.72 L683.06,93.86 L682.91,94.98 L682.75,96.06 L682.57,97.12 L682.39,98.16 L682.19,99.19 L681.98,100.20 L681.76,101.21 L681.54,102.21 L681.32,103.22 L681.09,104.23 L680.86,105.25 L680.63,106.28 L680.41,107.33 L680.19,108.40 L679.92,109.49 L679.60,110.59 L679.25,111.73 L678.88,112.90 L678.52,114.12 L678.18,115.38 L677.88,116.70 L677.64,118.08 L677.48,119.52 Z M668.30,114.94 L668.36,115.49 L668.55,116.00 L668.87,116.44 L669.30,116.79 L669.80,117.01 L670.34,117.10 L670.89,117.04 L671.40,116.85 L671.84,116.53 L672.19,116.10 L672.41,115.60 L672.50,115.06 L672.50,114.39 L672.46,113.75 L672.38,113.13 L672.26,112.53 L672.12,111.95 L671.95,111.40 L671.75,110.87 L671.54,110.37 L671.31,109.88 L671.07,109.42 L670.83,108.98 L670.58,108.55 L670.33,108.13 L670.08,107.73 L669.84,107.35 L669.60,106.97 L669.37,106.60 L669.16,106.24 L668.95,105.89 L668.76,105.55 L668.58,105.20 L668.42,104.86 L668.28,104.53 L668.15,104.19 L668.05,103.85 L667.96,103.50 L667.89,103.15 L667.84,102.78 L667.81,102.40 L667.80,102.00 L667.73,101.43 L667.51,100.90 L667.16,100.44 L666.70,100.09 L666.17,99.87 L665.60,99.80 L665.03,99.87 L664.50,100.09 L664.04,100.44 L663.69,100.90 L663.47,101.43 L663.40,102.00 L663.43,102.67 L663.49,103.31 L663.59,103.94 L663.72,104.54 L663.89,105.11 L664.07,105.66 L664.28,106.18 L664.51,106.69 L664.75,107.16 L665.00,107.62 L665.25,108.06 L665.51,108.48 L665.77,108.88 L666.02,109.27 L666.27,109.65 L666.52,110.02 L666.75,110.38 L666.97,110.73 L667.18,111.07 L667.37,111.41 L667.55,111.75 L667.71,112.08 L667.85,112.42 L667.97,112.75 L668.07,113.09 L668.16,113.43 L668.23,113.79 L668.27,114.15 L668.30,114.54 Z M669.50,115.06 L669.59,115.60 L669.81,116.10 L670.16,116.53 L670.60,116.85 L671.11,117.04 L671.66,117.10 L672.20,117.01 L672.70,116.79 L673.13,116.44 L673.45,116.00 L673.64,115.49 L673.70,114.94 L673.70,114.54 L673.73,114.15 L673.77,113.79 L673.84,113.43 L673.93,113.09 L674.03,112.75 L674.15,112.42 L674.29,112.08 L674.45,111.75 L674.63,111.41 L674.82,111.07 L675.03,110.73 L675.25,110.38 L675.48,110.02 L675.73,109.65 L675.98,109.27 L676.23,108.88 L676.49,108.48 L676.75,108.06 L677.00,107.62 L677.25,107.16 L677.49,106.69 L677.72,106.18 L677.93,105.66 L678.11,105.11 L678.28,104.54 L678.41,103.94 L678.51,103.31 L678.57,102.67 L678.60,102.00 L678.53,101.43 L678.31,100.90 L677.96,100.44 L677.50,100.09 L676.97,99.87 L676.40,99.80 L675.83,99.87 L675.30,100.09 L674.84,100.44 L674.49,100.90 L674.27,101.43 L674.20,102.00 L674.19,102.40 L674.16,102.78 L674.11,103.15 L674.04,103.50 L673.95,103.85 L673.85,104.19 L673.72,104.53 L673.58,104.86 L673.42,105.20 L673.24,105.55 L673.05,105.89 L672.84,106.24 L672.63,106.60 L672.40,106.97 L672.16,107.35 L671.92,107.73 L671.67,108.13 L671.42,108.55 L671.17,108.98 L670.93,109.42 L670.69,109.88 L670.46,110.37 L670.25,110.87 L670.05,111.40 L669.88,111.95 L669.74,112.53 L669.62,113.13 L669.54,113.75 L669.50,114.39 Z" fill="#a4a4a4" stroke="#a4a4a4" stroke-width="4.6" stroke-linejoin="round"/>
<path d="M613.81,143.46 L614.00,144.41 L614.43,145.27 L615.08,145.99 L615.88,146.53 L616.80,146.83 L617.76,146.89 L618.71,146.70 L619.57,146.27 L620.29,145.62 L620.83,144.82 L621.13,143.90 L621.19,142.94 L621.04,141.58 L620.79,140.29 L620.45,139.05 L620.04,137.88 L619.58,136.77 L619.09,135.71 L618.60,134.70 L618.12,133.72 L617.68,132.76 L617.29,131.82 L616.94,130.88 L616.60,129.96 L616.25,129.06 L615.90,128.17 L615.56,127.30 L615.22,126.43 L614.90,125.57 L614.58,124.71 L614.28,123.85 L613.99,122.98 L613.72,122.10 L613.47,121.20 L613.23,120.29 L613.03,119.35 L612.85,118.39 L612.69,117.39 L612.57,116.36 L612.48,115.29 L612.42,114.17 L612.40,113.00 L612.33,112.43 L612.11,111.90 L611.76,111.44 L611.30,111.09 L610.77,110.87 L610.20,110.80 L609.63,110.87 L609.10,111.09 L608.64,111.44 L608.29,111.90 L608.07,112.43 L608.00,113.00 L608.02,114.32 L608.09,115.59 L608.19,116.81 L608.33,117.99 L608.51,119.13 L608.72,120.24 L608.95,121.30 L609.21,122.34 L609.50,123.34 L609.80,124.32 L610.11,125.27 L610.44,126.20 L610.78,127.12 L611.12,128.01 L611.46,128.90 L611.81,129.78 L612.15,130.65 L612.49,131.53 L612.81,132.40 L613.12,133.29 L613.37,134.20 L613.54,135.14 L613.65,136.11 L613.70,137.10 L613.72,138.11 L613.71,139.13 L613.71,140.18 L613.71,141.24 L613.74,142.33 Z" fill="#d2d2d2" stroke="#2a2a2a" stroke-width="1.0" stroke-linejoin="round"/>
<path d="M720.81,142.94 L720.87,143.90 L721.17,144.82 L721.71,145.62 L722.43,146.27 L723.29,146.70 L724.24,146.89 L725.20,146.83 L726.12,146.53 L726.92,145.99 L727.57,145.27 L728.00,144.41 L728.19,143.46 L728.26,142.33 L728.29,141.24 L728.29,140.18 L728.29,139.13 L728.28,138.11 L728.30,137.10 L728.35,136.11 L728.46,135.14 L728.63,134.20 L728.88,133.29 L729.19,132.40 L729.51,131.53 L729.85,130.65 L730.19,129.78 L730.54,128.90 L730.88,128.01 L731.22,127.12 L731.56,126.20 L731.89,125.27 L732.20,124.32 L732.50,123.34 L732.79,122.34 L733.05,121.30 L733.28,120.24 L733.49,119.13 L733.67,117.99 L733.81,116.81 L733.91,115.59 L733.98,114.32 L734.00,113.00 L733.93,112.43 L733.71,111.90 L733.36,111.44 L732.90,111.09 L732.37,110.87 L731.80,110.80 L731.23,110.87 L730.70,111.09 L730.24,111.44 L729.89,111.90 L729.67,112.43 L729.60,113.00 L729.58,114.17 L729.52,115.29 L729.43,116.36 L729.31,117.39 L729.15,118.39 L728.97,119.35 L728.77,120.29 L728.53,121.20 L728.28,122.10 L728.01,122.98 L727.72,123.85 L727.42,124.71 L727.10,125.57 L726.78,126.43 L726.44,127.30 L726.10,128.17 L725.75,129.06 L725.40,129.96 L725.06,130.88 L724.71,131.82 L724.32,132.76 L723.88,133.72 L723.40,134.70 L722.91,135.71 L722.42,136.77 L721.96,137.88 L721.55,139.05 L721.21,140.29 L720.96,141.58 Z" fill="#d2d2d2" stroke="#2a2a2a" stroke-width="1.0" stroke-linejoin="round"/>
<path d="M620.40,123.15 L620.56,124.08 L620.96,124.93 L621.56,125.65 L622.33,126.19 L623.22,126.51 L624.15,126.60 L625.08,126.44 L625.93,126.04 L626.65,125.44 L627.19,124.67 L627.51,123.78 L627.60,122.85 L627.50,121.69 L627.31,120.59 L627.04,119.53 L626.71,118.53 L626.33,117.58 L625.93,116.67 L625.53,115.80 L625.14,114.97 L624.79,114.15 L624.48,113.35 L624.21,112.55 L623.95,111.77 L623.68,111.00 L623.42,110.25 L623.15,109.51 L622.89,108.78 L622.64,108.05 L622.39,107.33 L622.16,106.60 L621.94,105.87 L621.73,105.13 L621.53,104.38 L621.35,103.61 L621.19,102.83 L621.05,102.02 L620.93,101.18 L620.83,100.32 L620.76,99.42 L620.72,98.48 L620.70,97.50 L620.63,96.93 L620.41,96.40 L620.06,95.94 L619.60,95.59 L619.07,95.37 L618.50,95.30 L617.93,95.37 L617.40,95.59 L616.94,95.94 L616.59,96.40 L616.37,96.93 L616.30,97.50 L616.32,98.62 L616.37,99.70 L616.45,100.74 L616.56,101.74 L616.70,102.71 L616.87,103.65 L617.05,104.55 L617.26,105.43 L617.48,106.29 L617.72,107.11 L617.96,107.92 L618.22,108.71 L618.48,109.48 L618.74,110.24 L619.01,110.99 L619.27,111.73 L619.53,112.46 L619.79,113.20 L620.04,113.93 L620.27,114.67 L620.44,115.44 L620.54,116.22 L620.58,117.03 L620.58,117.86 L620.54,118.70 L620.48,119.55 L620.43,120.42 L620.39,121.30 L620.38,122.21 Z" fill="#d2d2d2" stroke="#2a2a2a" stroke-width="1.0" stroke-linejoin="round"/>
<path d="M714.40,122.85 L714.49,123.78 L714.81,124.67 L715.35,125.44 L716.07,126.04 L716.92,126.44 L717.85,126.60 L718.78,126.51 L719.67,126.19 L720.44,125.65 L721.04,124.93 L721.44,124.08 L721.60,123.15 L721.62,122.21 L721.61,121.30 L721.57,120.42 L721.52,119.55 L721.46,118.70 L721.42,117.86 L721.42,117.03 L721.46,116.22 L721.56,115.44 L721.73,114.67 L721.96,113.93 L722.21,113.20 L722.47,112.46 L722.73,111.73 L722.99,110.99 L723.26,110.24 L723.52,109.48 L723.78,108.71 L724.04,107.92 L724.28,107.11 L724.52,106.29 L724.74,105.43 L724.95,104.55 L725.13,103.65 L725.30,102.71 L725.44,101.74 L725.55,100.74 L725.63,99.70 L725.68,98.62 L725.70,97.50 L725.63,96.93 L725.41,96.40 L725.06,95.94 L724.60,95.59 L724.07,95.37 L723.50,95.30 L722.93,95.37 L722.40,95.59 L721.94,95.94 L721.59,96.40 L721.37,96.93 L721.30,97.50 L721.28,98.48 L721.24,99.42 L721.17,100.32 L721.07,101.18 L720.95,102.02 L720.81,102.83 L720.65,103.61 L720.47,104.38 L720.27,105.13 L720.06,105.87 L719.84,106.60 L719.61,107.33 L719.36,108.05 L719.11,108.78 L718.85,109.51 L718.58,110.25 L718.32,111.00 L718.05,111.77 L717.79,112.55 L717.52,113.35 L717.21,114.15 L716.86,114.97 L716.47,115.80 L716.07,116.67 L715.67,117.58 L715.29,118.53 L714.96,119.53 L714.69,120.59 L714.50,121.69 Z" fill="#d2d2d2" stroke="#2a2a2a" stroke-width="1.0" stroke-linejoin="round"/>
<path d="M630.40,139.60 L630.56,140.58 L630.96,141.49 L631.59,142.26 L632.39,142.84 L633.31,143.20 L634.30,143.30 L635.28,143.14 L636.19,142.74 L636.96,142.11 L637.54,141.31 L637.90,140.39 L638.00,139.40 L637.90,137.66 L637.69,136.00 L637.39,134.40 L637.02,132.88 L636.59,131.42 L636.14,130.02 L635.67,128.68 L635.23,127.37 L634.82,126.10 L634.46,124.85 L634.16,123.62 L633.85,122.41 L633.53,121.22 L633.22,120.04 L632.91,118.88 L632.59,117.72 L632.29,116.56 L631.99,115.40 L631.71,114.24 L631.43,113.06 L631.17,111.86 L630.93,110.64 L630.71,109.39 L630.51,108.11 L630.33,106.78 L630.18,105.42 L630.06,104.00 L629.97,102.53 L629.92,101.00 L629.90,99.40 L629.83,98.83 L629.61,98.30 L629.26,97.84 L628.80,97.49 L628.27,97.27 L627.70,97.20 L627.13,97.27 L626.60,97.49 L626.14,97.84 L625.79,98.30 L625.57,98.83 L625.50,99.40 L625.52,101.10 L625.58,102.74 L625.68,104.32 L625.81,105.84 L625.97,107.31 L626.16,108.74 L626.37,110.11 L626.61,111.45 L626.86,112.75 L627.14,114.02 L627.43,115.26 L627.72,116.48 L628.03,117.67 L628.34,118.85 L628.66,120.02 L628.97,121.19 L629.28,122.35 L629.59,123.51 L629.89,124.68 L630.17,125.87 L630.37,127.09 L630.50,128.34 L630.56,129.62 L630.57,130.94 L630.53,132.28 L630.48,133.66 L630.43,135.08 L630.39,136.53 L630.38,138.04 Z" fill="#d2d2d2" stroke="#2a2a2a" stroke-width="1.0" stroke-linejoin="round"/>
<path d="M704.00,139.40 L704.10,140.39 L704.46,141.31 L705.04,142.11 L705.81,142.74 L706.72,143.14 L707.70,143.30 L708.69,143.20 L709.61,142.84 L710.41,142.26 L711.04,141.49 L711.44,140.58 L711.60,139.60 L711.62,138.04 L711.61,136.53 L711.57,135.08 L711.52,133.66 L711.47,132.28 L711.43,130.94 L711.44,129.62 L711.50,128.34 L711.63,127.09 L711.83,125.87 L712.11,124.68 L712.41,123.51 L712.72,122.35 L713.03,121.19 L713.34,120.02 L713.66,118.85 L713.97,117.67 L714.28,116.48 L714.57,115.26 L714.86,114.02 L715.14,112.75 L715.39,111.45 L715.63,110.11 L715.84,108.74 L716.03,107.31 L716.19,105.84 L716.32,104.32 L716.42,102.74 L716.48,101.10 L716.50,99.40 L716.43,98.83 L716.21,98.30 L715.86,97.84 L715.40,97.49 L714.87,97.27 L714.30,97.20 L713.73,97.27 L713.20,97.49 L712.74,97.84 L712.39,98.30 L712.17,98.83 L712.10,99.40 L712.08,101.00 L712.03,102.53 L711.94,104.00 L711.82,105.42 L711.67,106.78 L711.49,108.11 L711.29,109.39 L711.07,110.64 L710.83,111.86 L710.57,113.06 L710.29,114.24 L710.01,115.40 L709.71,116.56 L709.41,117.72 L709.09,118.88 L708.78,120.04 L708.47,121.22 L708.15,122.41 L707.84,123.62 L707.54,124.85 L707.18,126.10 L706.77,127.37 L706.33,128.68 L705.86,130.02 L705.41,131.42 L704.98,132.88 L704.61,134.40 L704.31,136.00 L704.10,137.66 Z" fill="#d2d2d2" stroke="#2a2a2a" stroke-width="1.0" stroke-linejoin="round"/>
<path d="M645.91,128.77 L646.11,129.72 L646.54,130.58 L647.18,131.30 L647.99,131.83 L648.91,132.13 L649.87,132.19 L650.82,131.99 L651.68,131.56 L652.40,130.92 L652.93,130.11 L653.23,129.19 L653.29,128.23 L653.08,126.45 L652.72,124.76 L652.23,123.15 L651.63,121.63 L650.96,120.19 L650.23,118.83 L649.47,117.54 L648.71,116.29 L647.96,115.07 L647.24,113.86 L646.56,112.66 L645.86,111.49 L645.16,110.34 L644.46,109.20 L643.77,108.09 L643.08,106.98 L642.41,105.88 L641.76,104.78 L641.14,103.68 L640.55,102.57 L639.99,101.45 L639.48,100.31 L639.00,99.15 L638.58,97.97 L638.21,96.75 L637.90,95.50 L637.64,94.21 L637.46,92.86 L637.34,91.46 L637.30,90.00 L637.23,89.43 L637.01,88.90 L636.66,88.44 L636.20,88.09 L635.67,87.87 L635.10,87.80 L634.53,87.87 L634.00,88.09 L633.54,88.44 L633.19,88.90 L632.97,89.43 L632.90,90.00 L632.95,91.71 L633.08,93.35 L633.30,94.93 L633.60,96.46 L633.97,97.93 L634.40,99.35 L634.90,100.73 L635.44,102.05 L636.02,103.34 L636.64,104.58 L637.28,105.80 L637.95,106.98 L638.64,108.14 L639.33,109.29 L640.03,110.41 L640.73,111.53 L641.42,112.64 L642.09,113.75 L642.75,114.86 L643.37,115.99 L643.92,117.15 L644.37,118.35 L644.74,119.59 L645.04,120.84 L645.26,122.12 L645.44,123.41 L645.57,124.71 L645.69,126.03 L645.80,127.38 Z" fill="#d2d2d2" stroke="#2a2a2a" stroke-width="1.0" stroke-linejoin="round"/>
<path d="M688.71,128.23 L688.77,129.19 L689.07,130.11 L689.60,130.92 L690.32,131.56 L691.18,131.99 L692.13,132.19 L693.09,132.13 L694.01,131.83 L694.82,131.30 L695.46,130.58 L695.89,129.72 L696.09,128.77 L696.20,127.38 L696.31,126.03 L696.43,124.71 L696.56,123.41 L696.74,122.12 L696.96,120.84 L697.26,119.59 L697.63,118.35 L698.08,117.15 L698.63,115.99 L699.25,114.86 L699.91,113.75 L700.58,112.64 L701.27,111.53 L701.97,110.41 L702.67,109.29 L703.36,108.14 L704.05,106.98 L704.72,105.80 L705.36,104.58 L705.98,103.34 L706.56,102.05 L707.10,100.73 L707.60,99.35 L708.03,97.93 L708.40,96.46 L708.70,94.93 L708.92,93.35 L709.05,91.71 L709.10,90.00 L709.03,89.43 L708.81,88.90 L708.46,88.44 L708.00,88.09 L707.47,87.87 L706.90,87.80 L706.33,87.87 L705.80,88.09 L705.34,88.44 L704.99,88.90 L704.77,89.43 L704.70,90.00 L704.66,91.46 L704.54,92.86 L704.36,94.21 L704.10,95.50 L703.79,96.75 L703.42,97.97 L703.00,99.15 L702.52,100.31 L702.01,101.45 L701.45,102.57 L700.86,103.68 L700.24,104.78 L699.59,105.88 L698.92,106.98 L698.23,108.09 L697.54,109.20 L696.84,110.34 L696.14,111.49 L695.44,112.66 L694.76,113.86 L694.04,115.07 L693.29,116.29 L692.53,117.54 L691.77,118.83 L691.04,120.19 L690.37,121.63 L689.77,123.15 L689.28,124.76 L688.92,126.45 Z" fill="#d2d2d2" stroke="#2a2a2a" stroke-width="1.0" stroke-linejoin="round"/>
<path d="M648.10,108.30 L648.25,109.23 L648.63,110.08 L649.22,110.81 L649.98,111.37 L650.86,111.70 L651.80,111.80 L652.73,111.65 L653.58,111.27 L654.31,110.68 L654.87,109.92 L655.20,109.04 L655.30,108.10 L655.21,106.89 L655.03,105.72 L654.75,104.62 L654.41,103.56 L654.01,102.57 L653.59,101.62 L653.15,100.71 L652.73,99.84 L652.34,98.99 L651.99,98.15 L651.68,97.32 L651.37,96.51 L651.07,95.71 L650.75,94.93 L650.45,94.16 L650.14,93.40 L649.84,92.64 L649.56,91.89 L649.28,91.14 L649.02,90.38 L648.78,89.62 L648.55,88.84 L648.34,88.06 L648.15,87.25 L647.99,86.42 L647.85,85.57 L647.74,84.68 L647.66,83.76 L647.61,82.80 L647.60,81.80 L647.52,81.20 L647.29,80.65 L646.93,80.17 L646.45,79.81 L645.90,79.58 L645.30,79.50 L644.70,79.58 L644.15,79.81 L643.67,80.17 L643.31,80.65 L643.08,81.20 L643.00,81.80 L643.03,82.97 L643.09,84.10 L643.20,85.19 L643.34,86.24 L643.52,87.25 L643.72,88.23 L643.95,89.17 L644.20,90.09 L644.48,90.97 L644.76,91.84 L645.07,92.67 L645.38,93.49 L645.69,94.29 L646.01,95.07 L646.33,95.84 L646.65,96.60 L646.96,97.36 L647.26,98.11 L647.55,98.87 L647.83,99.63 L648.03,100.41 L648.16,101.23 L648.23,102.06 L648.25,102.90 L648.23,103.76 L648.19,104.63 L648.14,105.52 L648.10,106.41 L648.09,107.34 Z" fill="#d2d2d2" stroke="#2a2a2a" stroke-width="1.0" stroke-linejoin="round"/>
<path d="M686.70,108.10 L686.80,109.04 L687.13,109.92 L687.69,110.68 L688.42,111.27 L689.27,111.65 L690.20,111.80 L691.14,111.70 L692.02,111.37 L692.78,110.81 L693.37,110.08 L693.75,109.23 L693.90,108.30 L693.91,107.34 L693.90,106.41 L693.86,105.52 L693.81,104.63 L693.77,103.76 L693.75,102.90 L693.77,102.06 L693.84,101.23 L693.97,100.41 L694.17,99.63 L694.45,98.87 L694.74,98.11 L695.04,97.36 L695.35,96.60 L695.67,95.84 L695.99,95.07 L696.31,94.29 L696.62,93.49 L696.93,92.67 L697.24,91.84 L697.52,90.97 L697.80,90.09 L698.05,89.17 L698.28,88.23 L698.48,87.25 L698.66,86.24 L698.80,85.19 L698.91,84.10 L698.97,82.97 L699.00,81.80 L698.92,81.20 L698.69,80.65 L698.33,80.17 L697.85,79.81 L697.30,79.58 L696.70,79.50 L696.10,79.58 L695.55,79.81 L695.07,80.17 L694.71,80.65 L694.48,81.20 L694.40,81.80 L694.39,82.80 L694.34,83.76 L694.26,84.68 L694.15,85.57 L694.01,86.42 L693.85,87.25 L693.66,88.06 L693.45,88.84 L693.22,89.62 L692.98,90.38 L692.72,91.14 L692.44,91.89 L692.16,92.64 L691.86,93.40 L691.55,94.16 L691.25,94.93 L690.93,95.71 L690.63,96.51 L690.32,97.32 L690.01,98.15 L689.66,98.99 L689.27,99.84 L688.85,100.71 L688.41,101.62 L687.99,102.57 L687.59,103.56 L687.25,104.62 L686.97,105.72 L686.79,106.89 Z" fill="#d2d2d2" stroke="#2a2a2a" stroke-width="1.0" stroke-linejoin="round"/>
<path d="M657.40,121.17 L657.54,122.10 L657.92,122.96 L658.51,123.70 L659.26,124.25 L660.14,124.60 L661.07,124.70 L662.00,124.56 L662.86,124.18 L663.60,123.59 L664.15,122.84 L664.50,121.96 L664.60,121.03 L664.52,119.52 L664.36,118.08 L664.12,116.70 L663.82,115.38 L663.48,114.12 L663.12,112.90 L662.75,111.73 L662.40,110.59 L662.08,109.49 L661.81,108.40 L661.59,107.33 L661.37,106.28 L661.14,105.25 L660.91,104.23 L660.68,103.22 L660.46,102.21 L660.24,101.21 L660.02,100.20 L659.81,99.19 L659.61,98.16 L659.43,97.12 L659.25,96.06 L659.09,94.98 L658.94,93.86 L658.82,92.72 L658.71,91.53 L658.62,90.30 L658.55,89.02 L658.51,87.69 L658.50,86.30 L658.43,85.73 L658.21,85.20 L657.86,84.74 L657.40,84.39 L656.87,84.17 L656.30,84.10 L655.73,84.17 L655.20,84.39 L654.74,84.74 L654.39,85.20 L654.17,85.73 L654.10,86.30 L654.11,87.78 L654.16,89.20 L654.23,90.57 L654.32,91.89 L654.44,93.16 L654.58,94.39 L654.73,95.59 L654.90,96.75 L655.09,97.88 L655.29,98.98 L655.50,100.05 L655.72,101.11 L655.94,102.14 L656.16,103.17 L656.39,104.18 L656.62,105.19 L656.84,106.20 L657.07,107.21 L657.28,108.23 L657.48,109.26 L657.62,110.31 L657.69,111.39 L657.71,112.50 L657.68,113.64 L657.62,114.81 L657.54,116.00 L657.47,117.23 L657.42,118.50 L657.39,119.81 Z" fill="#d2d2d2" stroke="#2a2a2a" stroke-width="1.0" stroke-linejoin="round"/>
<path d="M677.40,121.03 L677.50,121.96 L677.85,122.84 L678.40,123.59 L679.14,124.18 L680.00,124.56 L680.93,124.70 L681.86,124.60 L682.74,124.25 L683.49,123.70 L684.08,122.96 L684.46,122.10 L684.60,121.17 L684.61,119.81 L684.58,118.50 L684.53,117.23 L684.46,116.00 L684.38,114.81 L684.32,113.64 L684.29,112.50 L684.31,111.39 L684.38,110.31 L684.52,109.26 L684.72,108.23 L684.93,107.21 L685.16,106.20 L685.38,105.19 L685.61,104.18 L685.84,103.17 L686.06,102.14 L686.28,101.11 L686.50,100.05 L686.71,98.98 L686.91,97.88 L687.10,96.75 L687.27,95.59 L687.42,94.39 L687.56,93.16 L687.68,91.89 L687.77,90.57 L687.84,89.20 L687.89,87.78 L687.90,86.30 L687.83,85.73 L687.61,85.20 L687.26,84.74 L686.80,84.39 L686.27,84.17 L685.70,84.10 L685.13,84.17 L684.60,84.39 L684.14,84.74 L683.79,85.20 L683.57,85.73 L683.50,86.30 L683.49,87.69 L683.45,89.02 L683.38,90.30 L683.29,91.53 L683.18,92.72 L683.06,93.86 L682.91,94.98 L682.75,96.06 L682.57,97.12 L682.39,98.16 L682.19,99.19 L681.98,100.20 L681.76,101.21 L681.54,102.21 L681.32,103.22 L681.09,104.23 L680.86,105.25 L680.63,106.28 L680.41,107.33 L680.19,108.40 L679.92,109.49 L679.60,110.59 L679.25,111.73 L678.88,112.90 L678.52,114.12 L678.18,115.38 L677.88,116.70 L677.64,118.08 L677.48,119.52 Z" fill="#d2d2d2" stroke="#2a2a2a" stroke-width="1.0" stroke-linejoin="round"/>
<path d="M668.30,114.94 L668.36,115.49 L668.55,116.00 L668.87,116.44 L669.30,116.79 L669.80,117.01 L670.34,117.10 L670.89,117.04 L671.40,116.85 L671.84,116.53 L672.19,116.10 L672.41,115.60 L672.50,115.06 L672.50,114.39 L672.46,113.75 L672.38,113.13 L672.26,112.53 L672.12,111.95 L671.95,111.40 L671.75,110.87 L671.54,110.37 L671.31,109.88 L671.07,109.42 L670.83,108.98 L670.58,108.55 L670.33,108.13 L670.08,107.73 L669.84,107.35 L669.60,106.97 L669.37,106.60 L669.16,106.24 L668.95,105.89 L668.76,105.55 L668.58,105.20 L668.42,104.86 L668.28,104.53 L668.15,104.19 L668.05,103.85 L667.96,103.50 L667.89,103.15 L667.84,102.78 L667.81,102.40 L667.80,102.00 L667.73,101.43 L667.51,100.90 L667.16,100.44 L666.70,100.09 L666.17,99.87 L665.60,99.80 L665.03,99.87 L664.50,100.09 L664.04,100.44 L663.69,100.90 L663.47,101.43 L663.40,102.00 L663.43,102.67 L663.49,103.31 L663.59,103.94 L663.72,104.54 L663.89,105.11 L664.07,105.66 L664.28,106.18 L664.51,106.69 L664.75,107.16 L665.00,107.62 L665.25,108.06 L665.51,108.48 L665.77,108.88 L666.02,109.27 L666.27,109.65 L666.52,110.02 L666.75,110.38 L666.97,110.73 L667.18,111.07 L667.37,111.41 L667.55,111.75 L667.71,112.08 L667.85,112.42 L667.97,112.75 L668.07,113.09 L668.16,113.43 L668.23,113.79 L668.27,114.15 L668.30,114.54 Z" fill="#d2d2d2" stroke="#2a2a2a" stroke-width="1.0" stroke-linejoin="round"/>
<path d="M669.50,115.06 L669.59,115.60 L669.81,116.10 L670.16,116.53 L670.60,116.85 L671.11,117.04 L671.66,117.10 L672.20,117.01 L672.70,116.79 L673.13,116.44 L673.45,116.00 L673.64,115.49 L673.70,114.94 L673.70,114.54 L673.73,114.15 L673.77,113.79 L673.84,113.43 L673.93,113.09 L674.03,112.75 L674.15,112.42 L674.29,112.08 L674.45,111.75 L674.63,111.41 L674.82,111.07 L675.03,110.73 L675.25,110.38 L675.48,110.02 L675.73,109.65 L675.98,109.27 L676.23,108.88 L676.49,108.48 L676.75,108.06 L677.00,107.62 L677.25,107.16 L677.49,106.69 L677.72,106.18 L677.93,105.66 L678.11,105.11 L678.28,104.54 L678.41,103.94 L678.51,103.31 L678.57,102.67 L678.60,102.00 L678.53,101.43 L678.31,100.90 L677.96,100.44 L677.50,100.09 L676.97,99.87 L676.40,99.80 L675.83,99.87 L675.30,100.09 L674.84,100.44 L674.49,100.90 L674.27,101.43 L674.20,102.00 L674.19,102.40 L674.16,102.78 L674.11,103.15 L674.04,103.50 L673.95,103.85 L673.85,104.19 L673.72,104.53 L673.58,104.86 L673.42,105.20 L673.24,105.55 L673.05,105.89 L672.84,106.24 L672.63,106.60 L672.40,106.97 L672.16,107.35 L671.92,107.73 L671.67,108.13 L671.42,108.55 L671.17,108.98 L670.93,109.42 L670.69,109.88 L670.46,110.37 L670.25,110.87 L670.05,111.40 L669.88,111.95 L669.74,112.53 L669.62,113.13 L669.54,113.75 L669.50,114.39 Z" fill="#d2d2d2" stroke="#2a2a2a" stroke-width="1.0" stroke-linejoin="round"/>
<ellipse cx="617.5" cy="141.7" rx="1.4" ry="2.8" fill="#f7f7f7"/>
<ellipse cx="724.5" cy="141.7" rx="1.4" ry="2.8" fill="#f7f7f7"/>
<ellipse cx="624.0" cy="121.5" rx="1.4" ry="2.7" fill="#f7f7f7"/>
<ellipse cx="718.0" cy="121.5" rx="1.4" ry="2.7" fill="#f7f7f7"/>
<ellipse cx="634.2" cy="138.0" rx="1.4" ry="2.8" fill="#f7f7f7"/>
<ellipse cx="707.8" cy="138.0" rx="1.4" ry="2.8" fill="#f7f7f7"/>
<ellipse cx="649.6" cy="127.0" rx="1.4" ry="2.8" fill="#f7f7f7"/>
<ellipse cx="692.4" cy="127.0" rx="1.4" ry="2.8" fill="#f7f7f7"/>
<ellipse cx="651.7" cy="106.7" rx="1.4" ry="2.7" fill="#f7f7f7"/>
<ellipse cx="690.3" cy="106.7" rx="1.4" ry="2.7" fill="#f7f7f7"/>
<ellipse cx="661.0" cy="119.6" rx="1.4" ry="2.7" fill="#f7f7f7"/>
<ellipse cx="681.0" cy="119.6" rx="1.4" ry="2.7" fill="#f7f7f7"/>
<ellipse cx="670.4" cy="113.5" rx="0.8" ry="1.6" fill="#f7f7f7"/>
<ellipse cx="671.6" cy="113.5" rx="0.8" ry="1.6" fill="#f7f7f7"/>
<polygon points="670.8,124.5 674.0,131 670.8,137.5 667.5999999999999,131" fill="#bbb" stroke="#222" stroke-width="1"/>
<circle cx="671.7" cy="200.5" r="61.5" fill="#b5b5b5"/>
<circle cx="671.7" cy="200.5" r="60" fill="#fff" stroke="#222" stroke-width="1.3"/>
<circle cx="671.7" cy="200.5" r="57.8" fill="none" stroke="#333" stroke-width="0.9"/>
<circle cx="671.7" cy="200.5" r="50.5" fill="#fff" stroke="#222" stroke-width="1.2"/>
<circle cx="671.7" cy="200.5" r="47.5" fill="none" stroke="#c8c8c8" stroke-width="3.5"/>
<path d="M629.3,178 A48,48 0 0 0 625.1,212" fill="none" stroke="#b9b9b9" stroke-width="4"/>
<path d="M716,222 A50.5,50.5 0 0 0 718,180" fill="none" stroke="#cfcfcf" stroke-width="4"/>
<path d="M622,211 L637,210" fill="none" stroke="#2a2a2a" stroke-width="1.2"/>
<path d="M629,234.5 C637,233 646,234 656,236.5" fill="none" stroke="#2a2a2a" stroke-width="1.2"/>
<path d="M634,174 C637,161 647,151 659,147 C669,144 681,144 687,149 C690,155 689,161 685,165 L678,172 C668,172 656,173 646,178 C641,179 636,178 634,174 Z" fill="#fff" stroke="#222" stroke-width="1.3"/>
<path d="M638,170 C642,160 650,153 658,150" fill="none" stroke="#bbb" stroke-width="1.5"/>
<path d="M650,172.5 C651.5,164 655,158 659.6,154.5 C667,151 676,149 683.5,149.5 L674,171 C666,170.5 658,171 650,172.5 Z" fill="#141414"/>
<path d="M670,171 C677,168.5 686,170 689,177 C685,181 676,180 670,176 Z" fill="#fff" stroke="#222" stroke-width="1.2"/>
<path d="M637,191 C633,204 638,217 650,222.5 C660,227 674,225 682,216 C687,210 689,203 687,196 L681,179 C673,174 661,172.5 651,175 C644,178 639,184 637,191 Z" fill="#fff" stroke="#222" stroke-width="1.4"/>
<path d="M628.5,186.5 C632,178 638,171.5 645,169 C649.5,172 651.5,181 651.5,193.5 C644,194.5 635,192.5 628.5,186.5 Z" fill="#fff" stroke="#222" stroke-width="1.3"/>
<path d="M633,186 C637,180 641,176 645,174" fill="none" stroke="#999" stroke-width="1"/>
<ellipse cx="685.5" cy="190" rx="5.6" ry="7" fill="#fff" stroke="#222" stroke-width="1.3" transform="rotate(-28 685.5 190)"/>
<ellipse cx="684" cy="191" rx="1.1" ry="2.2" fill="#222" transform="rotate(-20 684 191)"/><ellipse cx="688" cy="189" rx="1.1" ry="2.2" fill="#222" transform="rotate(-20 688 189)"/>
<path d="M655.5,181.5 L664.5,185.5" stroke="#222" stroke-width="1.6"/><path d="M666.5,183.5 L674,179.5" stroke="#222" stroke-width="1.6"/>
<ellipse cx="660.6" cy="187" rx="2.4" ry="2.3" fill="#fff" stroke="#222" stroke-width="1"/><circle cx="661.2" cy="187.5" r="1.2" fill="#111"/>
<ellipse cx="670.2" cy="185.4" rx="2.4" ry="2.3" fill="#fff" stroke="#222" stroke-width="1"/><circle cx="670.8" cy="185.9" r="1.2" fill="#111"/>
<path d="M672,190 C676,193 679,196 680,199" fill="none" stroke="#444" stroke-width="0.9"/>
<path d="M662,198.5 C667,203.5 675,203.5 680.5,198.5 C679,207 672,211 665.5,207.5 C663,205 662,202 662,198.5 Z" fill="#fff" stroke="#222" stroke-width="1.2"/>
<path d="M664.5,204.5 C665,210.5 670,212 672.5,208" fill="#d9d9d9" stroke="#222" stroke-width="1"/>
<path d="M645,206 C650,213 657,217 664,218" fill="none" stroke="#555" stroke-width="0.9"/>
<path d="M683,222 L697.5,184.5 L703,186.5 L689,224.5 Z" fill="#fff" stroke="#222" stroke-width="1.2"/>
<path d="M687,221 L699.5,187" fill="none" stroke="#999" stroke-width="1"/>
<path d="M697,185 L702,177 L711,181 L709,188 L702,187.5 Z" fill="#fff" stroke="#222" stroke-width="1.2"/>
<path d="M709.5,181.5 L732,192 L751,202.8 L730,196.5 L708.5,188 Z" fill="#e4e4e4" stroke="#222" stroke-width="1"/>
<path d="M678,218 C682,214 690,214 694,218 L692,230 C688,232 682,230 679,227 Z" fill="#fff" stroke="#222" stroke-width="1.2"/>
<path d="M683,226 C686,228 689,228 691,227" fill="none" stroke="#555" stroke-width="0.9"/>
<text transform="translate(589,276.5) rotate(-11.2)" font-family="Liberation Sans" font-weight="bold" font-style="italic" font-size="31" textLength="139" lengthAdjust="spacingAndGlyphs" fill="#ababab" stroke="#ababab" stroke-width="8.6" stroke-linejoin="round">Smoker</text>
<text transform="translate(589,276.5) rotate(-11.2)" font-family="Liberation Sans" font-weight="bold" font-style="italic" font-size="31" textLength="139" lengthAdjust="spacingAndGlyphs" fill="#1e1e1e" stroke="#1e1e1e" stroke-width="4.5" stroke-linejoin="round">Smoker</text>
<text transform="translate(589,276.5) rotate(-11.2)" font-family="Liberation Sans" font-weight="bold" font-style="italic" font-size="31" textLength="139" lengthAdjust="spacingAndGlyphs" fill="#fff" stroke="#fff" stroke-width="1.9" stroke-linejoin="round">Smoker</text>
<text transform="translate(633,293.5) rotate(-13.5)" font-family="Liberation Sans" font-weight="bold" font-style="italic" font-size="31" textLength="127" lengthAdjust="spacingAndGlyphs" fill="#ababab" stroke="#ababab" stroke-width="8.6" stroke-linejoin="round">Builder</text>
<text transform="translate(633,293.5) rotate(-13.5)" font-family="Liberation Sans" font-weight="bold" font-style="italic" font-size="31" textLength="127" lengthAdjust="spacingAndGlyphs" fill="#1e1e1e" stroke="#1e1e1e" stroke-width="4.5" stroke-linejoin="round">Builder</text>
<text transform="translate(633,293.5) rotate(-13.5)" font-family="Liberation Sans" font-weight="bold" font-style="italic" font-size="31" textLength="127" lengthAdjust="spacingAndGlyphs" fill="#fff" stroke="#fff" stroke-width="1.9" stroke-linejoin="round">Builder</text>
<path d="M633.6,292 L745,264.6 L757.8,323.6 L645.2,344.6 Z" fill="#fff" stroke="#181818" stroke-width="3" stroke-linejoin="round"/>
<text transform="translate(646.3,316) rotate(-11.2) scale(0.53,1)" font-family="Liberation Sans" font-weight="bold" font-size="32.5" fill="#1e1e1e" stroke="#1e1e1e" stroke-width="1.3" textLength="189" lengthAdjust="spacingAndGlyphs">APPROVED</text>
<text transform="translate(651.5,336.5) rotate(-10.6) scale(0.74,1)" font-family="Liberation Sans" font-weight="bold" font-size="25.5" fill="#141414" stroke="#141414" stroke-width="1.4" textLength="129" lengthAdjust="spacingAndGlyphs">PRODUCT</text>
</svg>
</body></html>
